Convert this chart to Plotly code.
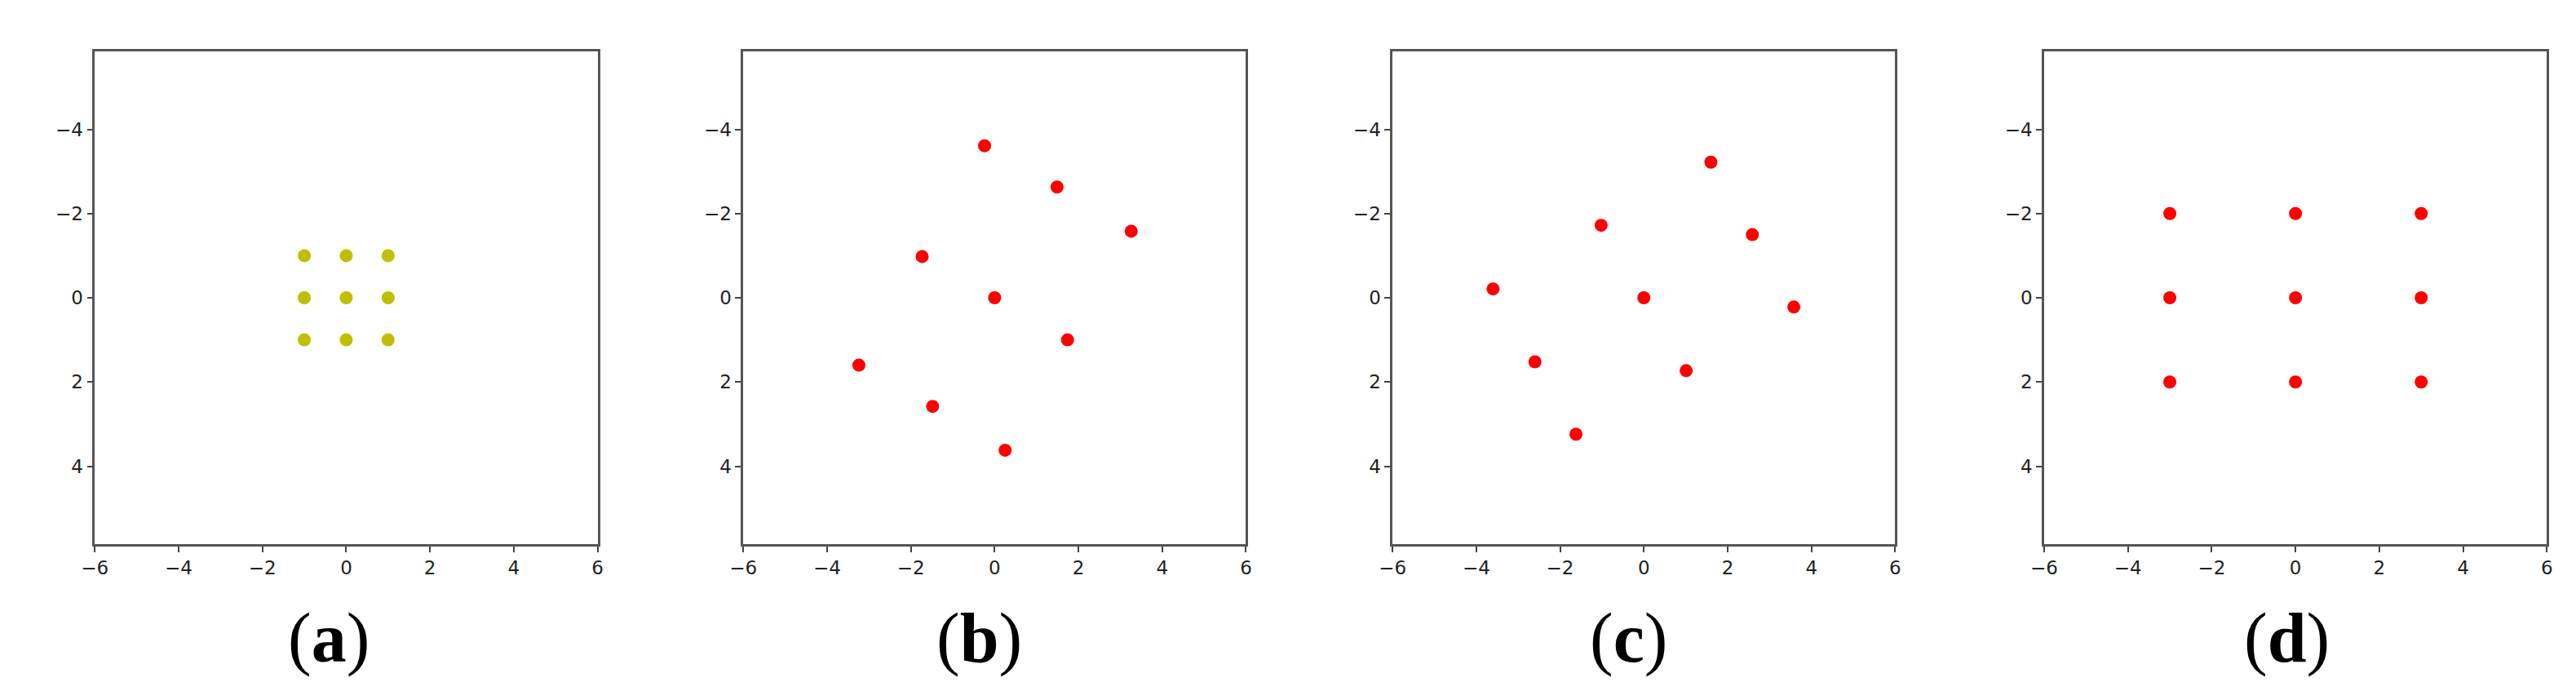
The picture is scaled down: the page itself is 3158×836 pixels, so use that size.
import plotly.graph_objects as go

# ---- data ----
a_x = [-1, 0, 1, -1, 0, 1, -1, 0, 1]
a_y = [-1, -1, -1, 0, 0, 0, 1, 1, 1]

b_x = [-0.24, 1.49, 3.26, -1.73, 0.0, 1.74, -3.24, -1.48, 0.25]
b_y = [-3.61, -2.63, -1.58, -0.98, 0.0, 1.00, 1.60, 2.58, 3.62]

c_x = [1.60, -1.02, 2.59, -3.60, 0.0, 3.58, -2.60, 1.01, -1.62]
c_y = [-3.22, -1.72, -1.50, -0.21, 0.0, 0.22, 1.52, 1.73, 3.24]

d_x = [-3, 0, 3, -3, 0, 3, -3, 0, 3]
d_y = [-2, -2, -2, 0, 0, 0, 2, 2, 2]

panel_letters = ["a", "b", "c", "d"]
x_ticks = [-6, -4, -2, 0, 2, 4, 6]
x_ticktext = ["\u22126", "\u22124", "\u22122", "0", "2", "4", "6"]
y_ticks = [-4, -2, 0, 2, 4]
y_ticktext = ["\u22124", "\u22122", "0", "2", "4"]

series = [(a_x, a_y, "#BFBF00"), (b_x, b_y, "#FF0000"),
          (c_x, c_y, "#FF0000"), (d_x, d_y, "#FF0000")]

# ---- layout geometry (pixels) ----
W, H = 3158, 836
lefts = [92, 893, 1695, 2500]
pw = 621
top, bottom = 55, 659
label_cx = [381, 1184, 1987, 2800]
label_cy = 774

fig = go.Figure()
layout = dict(
    width=W, height=H, margin=dict(l=0, r=0, t=0, b=0),
    paper_bgcolor="white", plot_bgcolor="white", showlegend=False,
)

annotations = []
for i, (xs, ys, col) in enumerate(series):
    n = "" if i == 0 else str(i + 1)
    fig.add_trace(go.Scatter(
        x=xs, y=ys, mode="markers",
        marker=dict(color=col, size=16, line=dict(width=0)),
        xaxis="x" + n, yaxis="y" + n, hoverinfo="skip",
    ))
    common = dict(
        showline=True, mirror=True, linecolor="#555555", linewidth=2.5,
        showgrid=False, zeroline=False, ticks="outside", ticklen=7,
        tickwidth=1.5, tickcolor="#444444",
        tickfont=dict(family="DejaVu Sans", size=23, color="#222222"),
        fixedrange=True,
    )
    layout["xaxis" + n] = dict(
        domain=[lefts[i] / W, (lefts[i] + pw) / W],
        range=[-6, 6], tickmode="array", tickvals=x_ticks, ticktext=x_ticktext,
        anchor="y" + n, **common,
    )
    layout["yaxis" + n] = dict(
        domain=[1 - bottom / H, 1 - top / H],
        range=[5.85, -5.85], tickmode="array", tickvals=y_ticks, ticktext=y_ticktext,
        anchor="x" + n, **common,
    )
    annotations.append(dict(
        text="(<b>" + panel_letters[i] + "</b>)", xref="paper", yref="paper",
        x=label_cx[i] / W, y=1 - label_cy / H, xanchor="center", yanchor="middle",
        showarrow=False,
        font=dict(family="Liberation Serif", size=86, color="black"),
    ))

layout["annotations"] = annotations
fig.update_layout(**layout)
fig.write_html("out.html")
